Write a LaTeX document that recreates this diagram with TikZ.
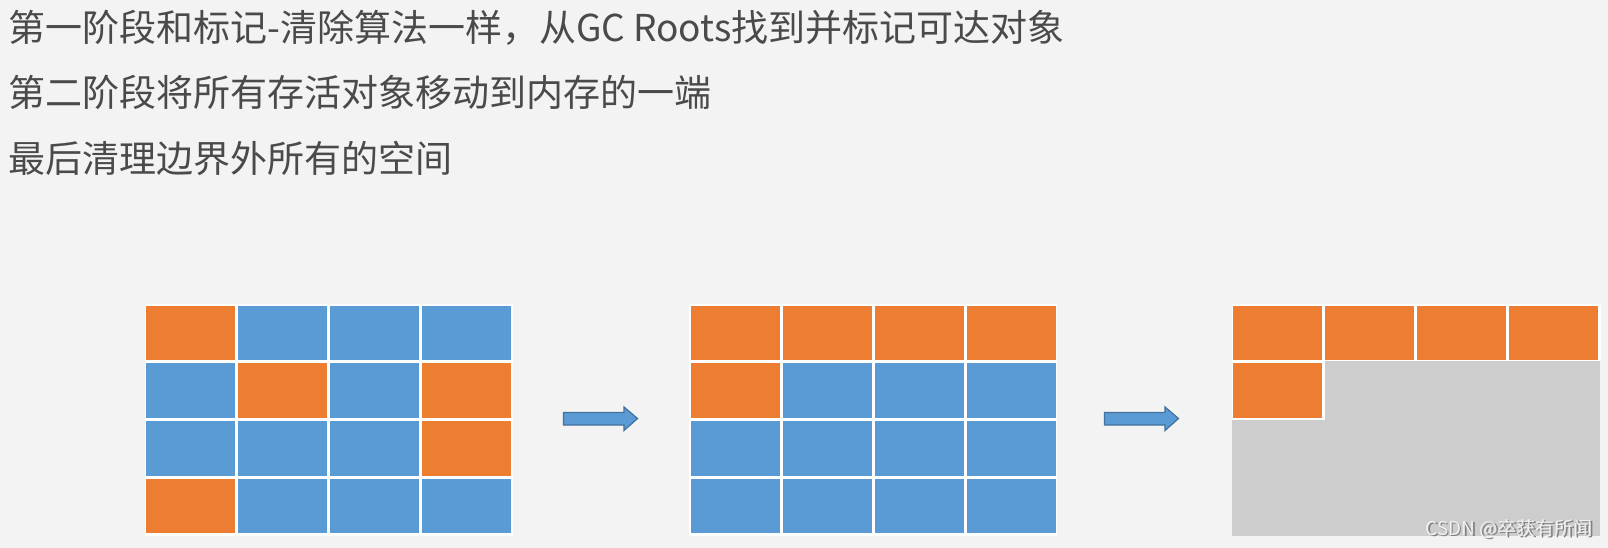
\documentclass[tikz,border=0pt]{standalone}
\usepackage{fontspec}
\setmainfont{Noto Sans CJK SC}
\newfontfamily\wmfont{Noto Sans CJK SC}
\definecolor{bgc}{HTML}{F3F3F3}
\definecolor{orc}{HTML}{ED7D31}
\definecolor{blc}{HTML}{5B9BD5}
\definecolor{grc}{HTML}{CDCDCD}
\definecolor{arb}{HTML}{41719C}
\definecolor{txc}{HTML}{4A4A4A}
\tikzset{
  cell/.style={rectangle, inner sep=0pt, outer sep=0pt, minimum width=89pt, minimum height=54.5pt, anchor=north west},
  O/.style={cell, fill=orc},
  B/.style={cell, fill=blc},
  line/.style={anchor=base west, inner sep=0pt, text=txc, font=\fontsize{37}{42}\selectfont},
  blockarrow/.style={fill=blc, draw=arb, line width=1.2pt, line join=miter},
  gridbg/.style={fill=white, draw=none}
}
\begin{document}
\begin{tikzpicture}[x=1pt,y=-1pt]
\useasboundingbox (0,0) rectangle (1608,548);
\fill[bgc] (0,0) rectangle (1608,548);

% text lines
\node[line] (t1) at (8,41.5) {第一阶段和标记-清除算法一样，从GC Roots找到并标记可达对象};
\node[line] (t2) at (8,106.5) {第二阶段将所有存活对象移动到内存的一端};
\node[line] (t3) at (8,172.5) {最后清理边界外所有的空间};

% grid 1
\fill[gridbg] (144.5,304) rectangle (512.5,535.5);
\foreach \row/\cols [count=\r from 0] in {1/{O,B,B,B},2/{B,O,B,O},3/{B,B,B,O},4/{O,B,B,B}}{
  \foreach \c [count=\k from 0] in \cols {
    \node[\c] (ga-\r-\k) at ({146+\k*92},{305.5+\r*57.8}) {};
  }
}

% grid 2
\fill[gridbg] (689,304) rectangle (1057,535.5);
\foreach \row/\cols [count=\r from 0] in {1/{O,O,O,O},2/{O,B,B,B},3/{B,B,B,B},4/{B,B,B,B}}{
  \foreach \c [count=\k from 0] in \cols {
    \node[\c] (gb-\r-\k) at ({690.5+\k*92},{305.5+\r*57.8}) {};
  }
}

% grid 3
\fill[grc] (1232,361) rectangle (1600,535.5);
\fill[gridbg] (1231.5,304) rectangle (1600.5,361.3);
\fill[gridbg] (1231.5,361) rectangle (1324.5,419.5);
\fill[grc] (1232,420) rectangle (1325,535.5);
\foreach \k in {0,1,2,3}{
  \node[O] (gc-0-\k) at ({1233.3+\k*92},305.5) {};
}
\node[O] (gc-1-0) at (1233.3,363.3) {};

% block arrows
\draw[blockarrow] (563.5,412.5) -- (624,412.5) -- (624,407) -- (637.5,418.5) -- (624,430.5) -- (624,425) -- (563.5,425) -- cycle;
\draw[blockarrow] (1104.5,412.5) -- (1165,412.5) -- (1165,407) -- (1178.5,418.5) -- (1165,430.5) -- (1165,425) -- (1104.5,425) -- cycle;

% watermark
\node[anchor=base east, inner sep=0pt, text=black!50, font=\wmfont\fontsize{19}{22}\selectfont] (wm0) at (1594.2,536.2) {CSDN @卒获有所闻};
\node[anchor=base east, inner sep=0pt, text=white!94!black, font=\wmfont\fontsize{19}{22}\selectfont] (wm) at (1593,535) {CSDN @卒获有所闻};
\end{tikzpicture}
\end{document}
